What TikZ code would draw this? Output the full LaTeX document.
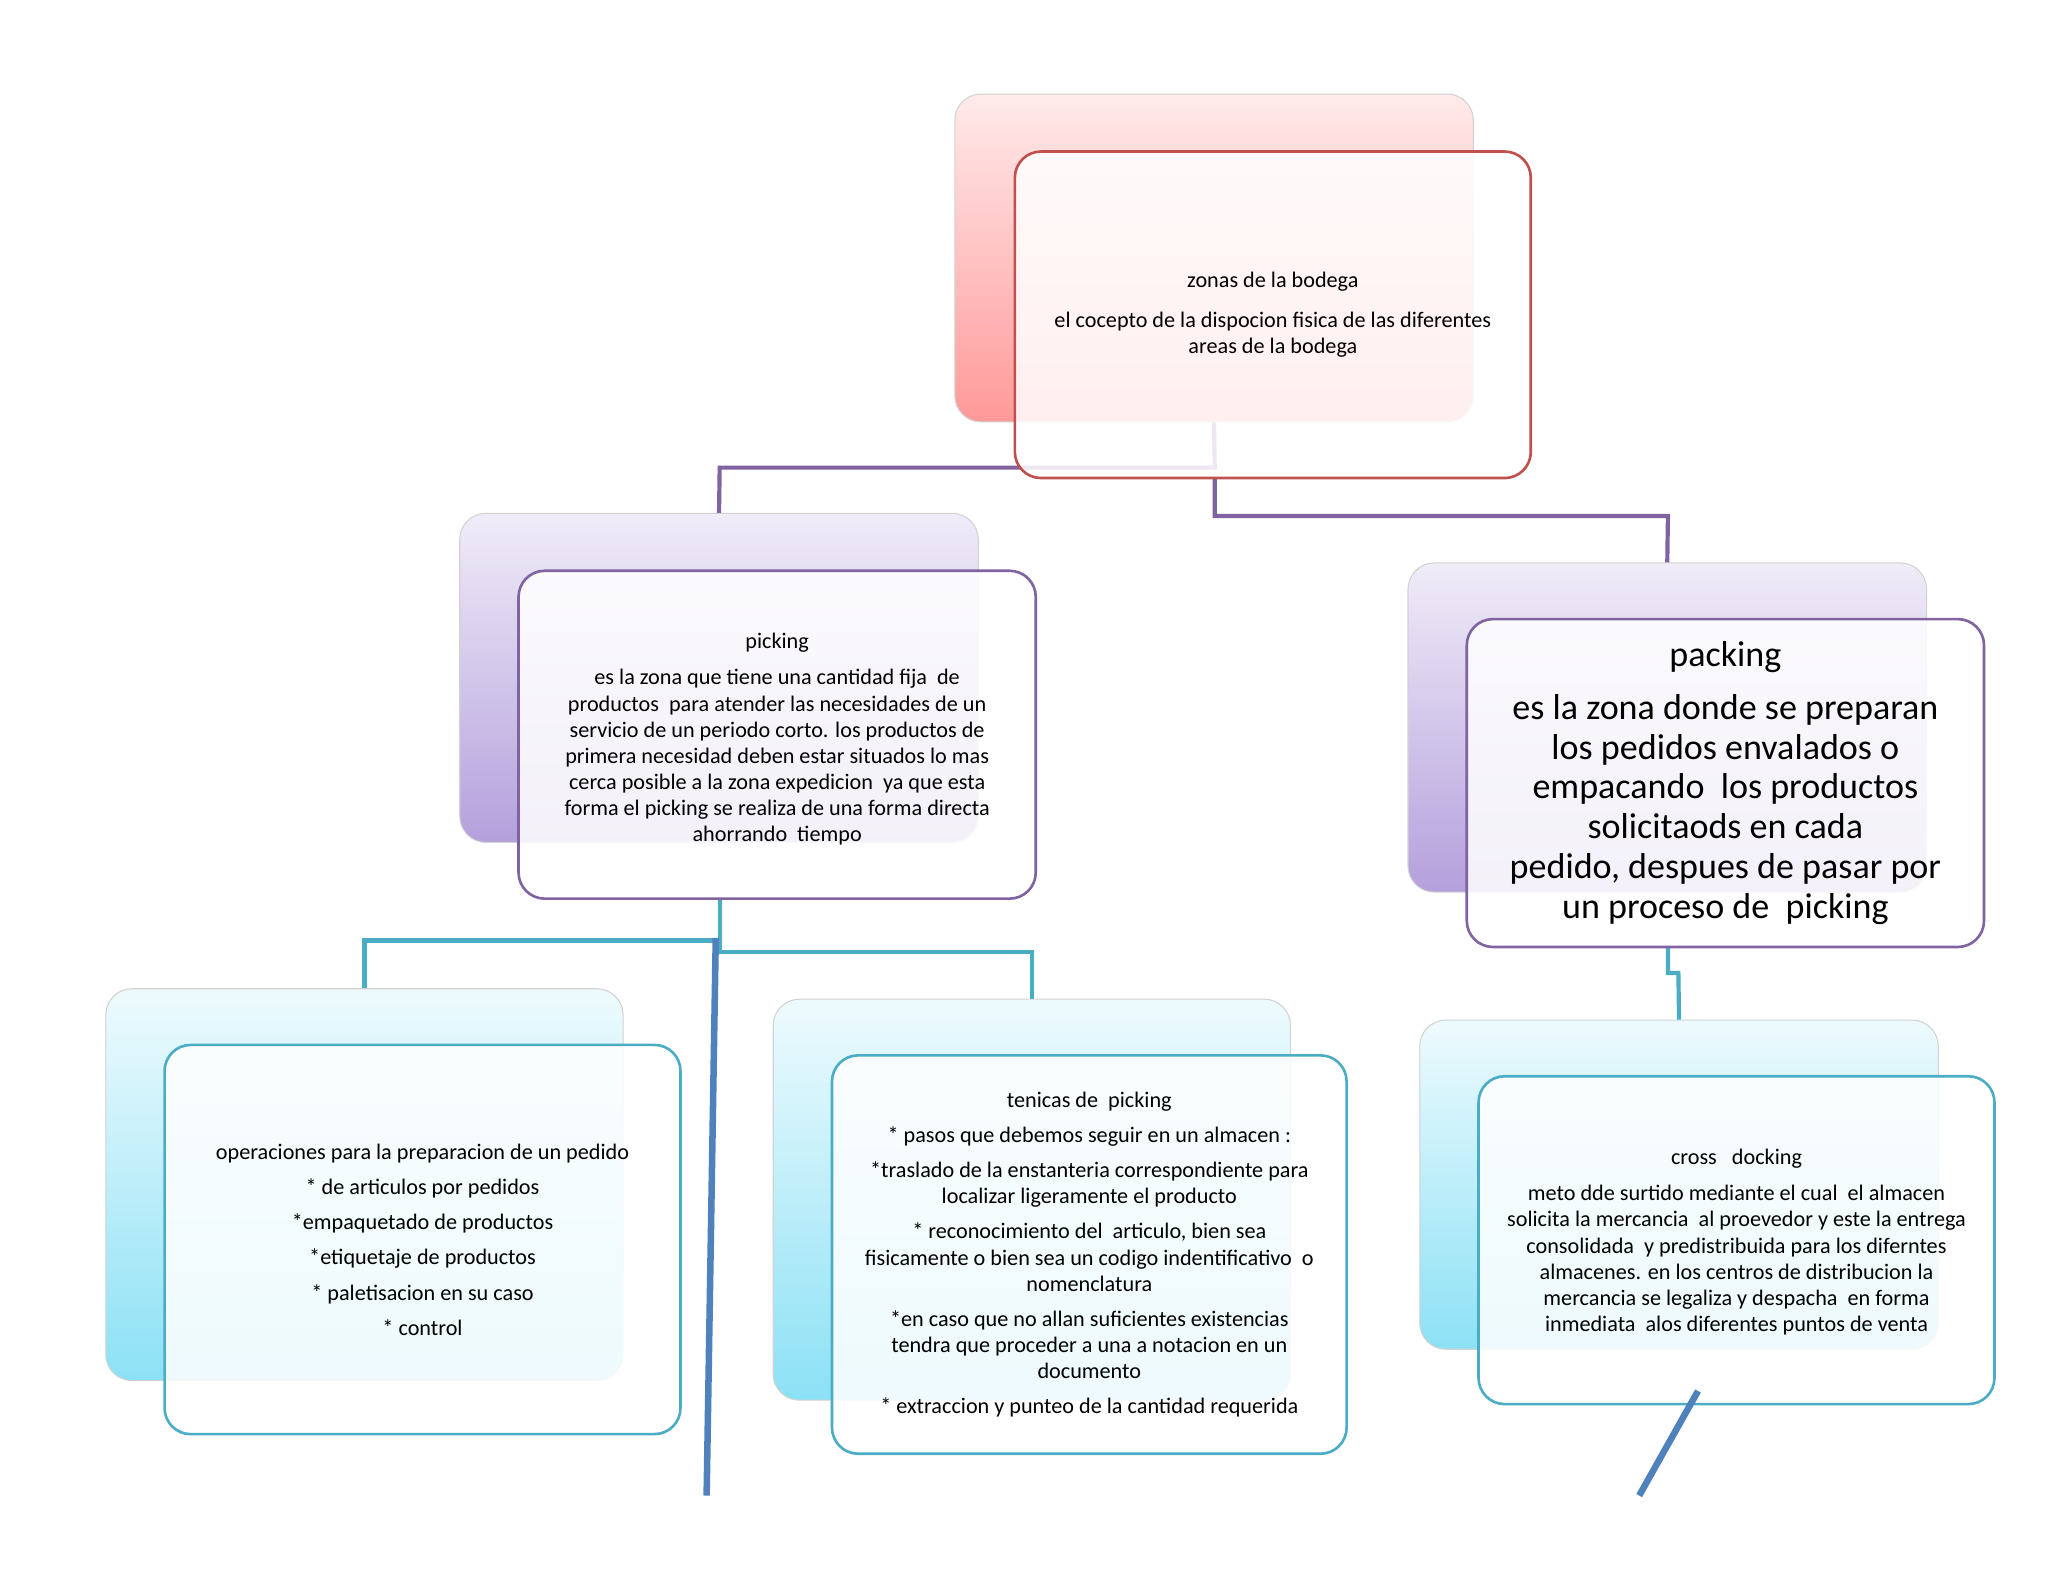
\documentclass[tikz,border=0pt]{standalone}
\usepackage{fontspec}
\setmainfont{Carlito}
\begin{document}
\begin{tikzpicture}[x=0.5pt,y=-0.5pt,
 back/.style={rounded corners=10pt,draw=gray!35,inner sep=0pt},
 front/.style={rounded corners=10pt,line width=1pt,fill=white,fill opacity=0.85,text opacity=1,inner sep=0pt,align=center,font=\fontsize{8.5}{10}\selectfont},
 conn/.style={line width=1.6pt}]
\definecolor{pur}{RGB}{128,100,162}
\definecolor{cya}{RGB}{75,172,198}
\definecolor{lav}{RGB}{180,160,220}
\definecolor{sky}{RGB}{140,225,245}
\useasboundingbox (0,0) rectangle (1568,1211);
\fill[white] (0,0) rectangle (1568,1211);
% backs
\node[back,top color=red!8,bottom color=red!40,minimum width=198.5pt,minimum height=125.5pt] (tb) at (929.5,197.5) {};
\node[back,top color=lav!20,bottom color=lav,minimum width=198.5pt,minimum height=126pt] (pb) at (550.5,519) {};
\node[back,top color=lav!20,bottom color=lav,minimum width=198.5pt,minimum height=126pt] (kb) at (1276.5,557) {};
\node[back,top color=sky!15,bottom color=sky,minimum width=198pt,minimum height=150pt] (ob) at (279,907) {};
\node[back,top color=sky!15,bottom color=sky,minimum width=198pt,minimum height=153.5pt] (eb) at (790,918.5) {};
\node[back,top color=sky!15,bottom color=sky,minimum width=198.5pt,minimum height=126pt] (cb) at (1285.5,907) {};
% connectors
\draw[conn,pur] (tb.south) -- (930,358) -- (551,358) -- (pb.north);
\draw[conn,pur] (930,366) -- (930,395) -- (1277,395) -- (kb.north);
\draw[conn,cya] (551,688) -- (551,720) -- (279,720) -- (ob.north);
\draw[conn,cya] (551,688) -- (551,729) -- (790,729) -- (eb.north);
\draw[conn,cya] (1277,725) -- (1277,745) -- (1285,745) -- (cb.north);
% fronts
\node[front,draw={rgb,255:red,192;green,80;blue,77},minimum width=197.5pt,minimum height=125pt] (t) at (974.5,241) {zonas de la bodega\\[5pt]el cocepto de la dispocion fisica de las diferentes\\areas de la bodega};
\node[front,draw=pur,minimum width=198pt,minimum height=125.5pt] (p) at (595,562.5) {picking\\[4pt]es la zona que tiene una cantidad fija\ \ de\\productos\ \ para atender las necesidades de un\\servicio de un periodo corto. los productos de\\primera necesidad deben estar situados lo mas\\cerca posible a la zona expedicion\ \ ya que esta\\forma el picking se realiza de una forma directa\\ahorrando\ \ tiempo\\[-12pt]};
\node[front,draw=pur,minimum width=198pt,minimum height=125.5pt,font=\fontsize{13.8}{15.2}\selectfont] (k) at (1321,599.5) {packing\\[5pt]es la zona donde se preparan\\los pedidos envalados o\\empacando\ \ los productos\\solicitaods en cada\\pedido, despues de pasar por\\un proceso de\ \ picking};
\node[front,draw=cya,minimum width=197.5pt,minimum height=149pt] (o) at (323.5,949) {operaciones para la preparacion de un pedido\\[3.5pt]* de articulos por pedidos\\[3.5pt]*empaquetado de productos\\[3.5pt]*etiquetaje de productos\\[3.5pt]* paletisacion en su caso\\[3.5pt]* control\\[-10pt]};
\node[front,draw=cya,minimum width=197pt,minimum height=152.5pt] (e) at (834,960.5) {tenicas de\ \ picking\\[3.5pt]* pasos que debemos seguir en un almacen :\\[3.5pt]*traslado de la enstanteria correspondiente para\\localizar ligeramente el producto\\[3.5pt]* reconocimiento del\ \ articulo, bien sea\\fisicamente o bien sea un codigo indentificativo\ \ o\\nomenclatura\\[3.5pt]*en caso que no allan suficientes existencias\\tendra que proceder a una a notacion en un\\documento\\[3.5pt]* extraccion y punteo de la cantidad requerida};
\node[front,draw=cya,minimum width=197.5pt,minimum height=125.5pt] (c) at (1329.5,949.5) {cross\ \ \ docking\\[4pt]meto dde surtido mediante el cual\ \ el almacen\\solicita la mercancia\ \ al proevedor y este la entrega\\consolidada\ \ y predistribuida para los diferntes\\almacenes. en los centros de distribucion la\\mercancia se legaliza y despacha\ \ en forma\\inmediata\ \ alos diferentes puntos de venta\\[-10pt]};
% blue strokes
\coordinate (b1) at (548,718); \coordinate (b2) at (541,1145);
\coordinate (b3) at (1300,1065); \coordinate (b4) at (1255,1145);
\draw[line width=2.5pt,color={rgb,255:red,79;green,129;blue,189}] (b1) -- (b2);
\draw[line width=2.5pt,color={rgb,255:red,79;green,129;blue,189}] (b3) -- (b4);
\end{tikzpicture}
\end{document}
